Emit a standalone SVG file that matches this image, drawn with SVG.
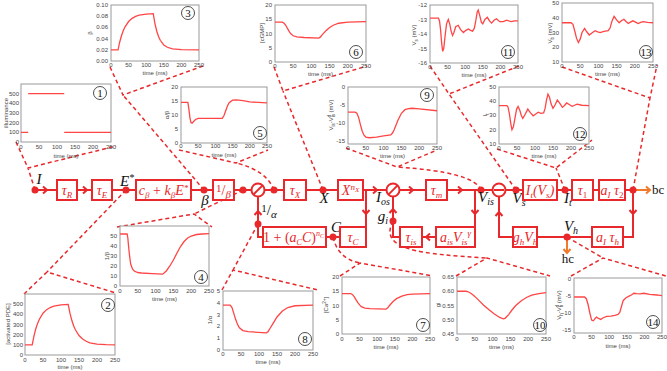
<svg xmlns="http://www.w3.org/2000/svg" xmlns:xlink="http://www.w3.org/1999/xlink" width="667" height="371" viewBox="0 0 667 371">
<style>
.ln{stroke:#e8282b;stroke-width:2;fill:none}
.og{stroke:#f07a2a;stroke-width:2;fill:none}
.bx{fill:#fff;stroke:#e8282b;stroke-width:2}
.bt{font-family:"Liberation Serif",serif;font-style:italic;font-size:14px;fill:#e8282b;text-anchor:middle}
.s{font-size:9px}
.lb{font-family:"Liberation Serif",serif;font-style:italic;font-size:15px;fill:#111;text-anchor:middle}
.dot{fill:#e8282b}
.co{stroke:#e8282b;stroke-width:1.5;stroke-dasharray:4 3;fill:none}
.fr{fill:#fff;stroke:#999;stroke-width:1}
.tk{font-family:"Liberation Sans",Arial,sans-serif;font-size:6px;fill:#444;text-anchor:middle}
.tke{font-family:"Liberation Sans",Arial,sans-serif;font-size:6px;fill:#444;text-anchor:end}
.cv{fill:none;stroke:#ff4545;stroke-width:1.3}
.cn{fill:#fff;stroke:#222;stroke-width:0.8}
.cnt{font-family:"Liberation Serif",serif;font-size:11px;fill:#111;text-anchor:middle}
.ss{font-size:4.5px}
</style>
<defs>
<path id="chev" d="M-4,-3.5 L0,0 L-4,3.5" class="ln"/>
<path id="ochev" d="M-4,-3.5 L0,0 L-4,3.5" class="og"/>
</defs>

<!-- callout connectors -->
<g id="callouts">
<path class="co" d="M35,190 L28,168 M16,142 L28,168 L116,146"/>
<path class="co" d="M126,190 L47,272 M24,294 L47,272 L116,293"/>
<path class="co" d="M204,190 L123,95 M110,67 L123,95 L203,66"/>
<path class="co" d="M243,190 L194,214 M117,227 L194,214 L212,227"/>
<path class="co" d="M274,190 Q266,170 236,163 M179,150 L236,163 L268,150"/>
<path class="co" d="M323,190 L283,91 M274,67 L283,91 L367,66"/>
<path class="co" d="M333,237 Q338,259 360,263 M340,276 L360,263 L433,276"/>
<path class="co" d="M258,224 L233,270 M222,290 L233,270 L318,290"/>
<path class="co" d="M481,190 Q474,172 397,167 M346,148 L397,167 L437,150"/>
<path class="co" d="M393,221 C378,250 420,254 487,258 M456,276 L487,258 L550,276"/>
<path class="co" d="M516,190 L449,94 M430,66 L449,94 L519,66"/>
<path class="co" d="M565,190 L556,168 M497,149 L556,168 L592,140"/>
<path class="co" d="M633,190 L650,98 M562,67 L650,98 L657,65"/>
<path class="co" d="M567,237 L603,258 M571,276 L603,258 L666,276"/>
</g>

<!-- block diagram connectors -->
<g id="connectors">
<path class="ln" d="M35,190H57 M77,190H92 M112,190H136 M191,190H213 M234,190H251.5 M264.5,190H284 M306,190H338 M363,190H386.5 M399.5,190H426 M447,190H492.5 M505.5,190H523 M557,190H572 M593,190H599 M625,190H633"/>
<path class="ln" d="M258,196.5V237H263 M326,237H340 M366,190V237 M393,196.5V237H400 M422,237H436 M475,190V237 M499,196.5V237H513 M537,237H592 M623,237H633V190"/>
<path class="og" d="M633,190H649 M567,237V252"/>
<use xlink:href="#chev" transform="translate(47,190)"/>
<use xlink:href="#chev" transform="translate(87,190)"/>
<use xlink:href="#chev" transform="translate(377,190)"/>
<use xlink:href="#chev" transform="translate(413,190)"/>
<use xlink:href="#chev" transform="translate(462,190)"/>
<use xlink:href="#chev" transform="translate(366,214) rotate(90)"/>
<use xlink:href="#chev" transform="translate(258,211) rotate(-90)"/>
<use xlink:href="#chev" transform="translate(393,209) rotate(-90)"/>
<use xlink:href="#chev" transform="translate(426,237) rotate(180)"/>
<use xlink:href="#chev" transform="translate(475,214) rotate(90)"/>
<use xlink:href="#chev" transform="translate(499,212) rotate(-90)"/>
<use xlink:href="#chev" transform="translate(633,214) rotate(90)"/>
<use xlink:href="#ochev" transform="translate(650,190)"/>
<use xlink:href="#ochev" transform="translate(567,253) rotate(90)"/>
</g>

<!-- nodes -->
<g id="n_I"><circle class="dot" cx="35" cy="190" r="3.5"/><text class="lb" x="39" y="184">I</text></g>
<g id="n_tauR"><rect class="bx" x="57" y="180" width="20" height="20"/><text class="bt" x="67" y="195">τ<tspan class="s" dy="3">R</tspan></text></g>
<g id="n_tauE"><rect class="bx" x="92" y="180" width="20" height="20"/><text class="bt" x="102" y="195">τ<tspan class="s" dy="3">E</tspan></text></g>
<g id="n_E"><circle class="dot" cx="126" cy="190" r="3.5"/><text class="lb" x="127" y="186">E<tspan font-size="10" dy="-5">*</tspan></text></g>
<g id="n_cb"><rect class="bx" x="136" y="180" width="55" height="20"/><text class="bt" x="163.5" y="195">c<tspan class="s" dy="3">β</tspan><tspan dy="-3" font-style="normal"> + </tspan>k<tspan class="s" dy="3">β</tspan><tspan dy="-3">E</tspan><tspan class="s" dy="-4">*</tspan></text></g>
<g id="n_beta"><circle class="dot" cx="204" cy="190" r="3.5"/><text class="lb" x="205" y="205">β</text></g>
<g id="n_invb"><rect class="bx" x="213" y="180" width="21" height="20"/><text class="bt" x="223.5" y="195"><tspan font-size="11" font-style="normal" dy="-3">1</tspan><tspan dy="3" font-style="normal">/</tspan><tspan font-size="11" dy="3">β</tspan></text></g>
<g id="n_d1"><circle class="dot" cx="243" cy="190" r="3.5"/></g>
<g id="n_div1"><circle cx="258" cy="190" r="6.5" class="bx"/><path class="ln" d="M253.4,194.6 L262.6,185.4"/></g>
<g id="n_d2"><circle class="dot" cx="274" cy="190" r="3.5"/></g>
<g id="n_tauX"><rect class="bx" x="284" y="180" width="22" height="20"/><text class="bt" x="295" y="195">τ<tspan class="s" dy="3">X</tspan></text></g>
<g id="n_X"><circle class="dot" cx="323" cy="190" r="3.5"/><text class="lb" x="324" y="203">X</text></g>
<g id="n_Xn"><rect class="bx" x="338" y="180" width="25" height="20"/><text class="bt" x="350.5" y="195">X<tspan class="s" dy="-5">n</tspan><tspan font-size="7" dy="2">X</tspan></text></g>
<g id="n_Ios"><text class="lb" x="383" y="202">I<tspan font-size="10" dy="3">os</tspan></text></g>
<g id="n_div2"><circle cx="393" cy="190" r="6.5" class="bx"/><path class="ln" d="M388.4,194.6 L397.6,185.4"/></g>
<g id="n_taum"><rect class="bx" x="426" y="180" width="21" height="20"/><text class="bt" x="436.5" y="195">τ<tspan class="s" dy="3">m</tspan></text></g>
<g id="n_Vis"><circle class="dot" cx="481" cy="190" r="3.5"/><text class="lb" x="486" y="202">V<tspan font-size="10" dy="3">is</tspan></text></g>
<g id="n_sub"><circle cx="499" cy="190" r="6.5" class="bx"/><path class="ln" d="M494,190 H504"/></g>
<g id="n_Vs"><circle class="dot" cx="516" cy="190" r="3.5"/><text class="lb" x="519" y="203">V<tspan font-size="10" dy="3">s</tspan></text></g>
<g id="n_It"><rect class="bx" x="523" y="180" width="34" height="20"/><text class="bt" x="540" y="195">I<tspan class="s" dy="3">t</tspan><tspan dy="-3">(V</tspan><tspan class="s" dy="3">s</tspan><tspan dy="-3">)</tspan></text></g>
<g id="n_Itd"><circle class="dot" cx="565" cy="190" r="3.5"/><text class="lb" x="568" y="203">I<tspan font-size="10" dy="3">t</tspan></text></g>
<g id="n_tau1"><rect class="bx" x="572" y="180" width="21" height="20"/><text class="bt" x="582.5" y="195">τ<tspan class="s" dy="3" font-style="normal">1</tspan></text></g>
<g id="n_aIt2"><rect class="bx" x="599" y="180" width="26" height="20"/><text class="bt" x="612" y="195">a<tspan class="s" dy="3">I</tspan><tspan dy="-3"> τ</tspan><tspan class="s" dy="3" font-style="normal">2</tspan></text></g>
<g id="n_out"><circle class="dot" cx="633" cy="190" r="3.5"/><text x="652" y="194" font-family="Liberation Serif, serif" font-size="13" fill="#111">bc</text></g>
<g id="n_alpha"><circle class="dot" cx="258" cy="224" r="3.5"/><text class="lb" x="269" y="215"><tspan font-size="11" font-style="normal" dy="-3">1</tspan><tspan dy="3" font-style="normal">/</tspan><tspan font-size="11" dy="3">α</tspan></text></g>
<g id="n_aC"><rect class="bx" x="263" y="227" width="63" height="20"/><text class="bt" x="293.5" y="242" font-size="13"><tspan font-style="normal">1 + (</tspan>a<tspan font-size="8" dy="3">C</tspan><tspan dy="-3">C</tspan><tspan font-style="normal">)</tspan><tspan font-size="8" dy="-6">n</tspan><tspan font-size="6" dy="2">C</tspan></text></g>
<g id="n_C"><circle class="dot" cx="333" cy="237" r="3.5"/><text class="lb" x="336" y="232">C</text></g>
<g id="n_tauC"><rect class="bx" x="340" y="227" width="26" height="20"/><text class="bt" x="353" y="242">τ<tspan class="s" dy="3">C</tspan></text></g>
<g id="n_gi"><circle class="dot" cx="393" cy="221" r="3.5"/><text class="lb" x="383" y="221">g<tspan font-size="10" dy="3">i</tspan></text></g>
<g id="n_tauis"><rect class="bx" x="400" y="227" width="22" height="20"/><text class="bt" x="411" y="242">τ<tspan class="s" dy="3">is</tspan></text></g>
<g id="n_ais"><rect class="bx" x="436" y="227" width="39" height="20"/><text class="bt" x="455.5" y="242">a<tspan class="s" dy="3">is</tspan><tspan dy="-3">V</tspan><tspan class="s" dy="3">is</tspan><tspan class="s" dy="-9">γ</tspan></text></g>
<g id="n_ghVh"><rect class="bx" x="513" y="227" width="24" height="20"/><text class="bt" x="525" y="242">g<tspan class="s" dy="3">h</tspan><tspan dy="-3">V</tspan><tspan class="s" dy="3">h</tspan></text></g>
<g id="n_Vh"><circle class="dot" cx="567" cy="237" r="3.5"/><text class="lb" x="571" y="231">V<tspan font-size="10" dy="3">h</tspan></text><text x="568" y="263" font-family="Liberation Serif, serif" font-size="13" fill="#111" text-anchor="middle">hc</text></g>
<g id="n_aIth"><rect class="bx" x="592" y="227" width="31" height="20"/><text class="bt" x="607.5" y="242">a<tspan class="s" dy="3">I</tspan><tspan dy="-3"> τ</tspan><tspan class="s" dy="3">h</tspan></text></g>

<!-- plots -->
<g id="plot1">
<rect class="fr" x="21" y="84" width="90" height="58"/>
<path class="cv" stroke-width="2" stroke="#ff6a6a" vector-effect="non-scaling-stroke" transform="translate(21,142) scale(0.36,-0.09667)" d="M0,100H20M20,500H120M120,100H250"/>
<text class="tke" x="19" y="144">0</text><text class="tke" x="19" y="134.3">100</text><text class="tke" x="19" y="124.7">200</text><text class="tke" x="19" y="115">300</text><text class="tke" x="19" y="105.3">400</text><text class="tke" x="19" y="95.7">500</text>
<text class="tk" x="21" y="149">0</text><text class="tk" x="39" y="149">50</text><text class="tk" x="57" y="149">100</text><text class="tk" x="75" y="149">150</text><text class="tk" x="93" y="149">200</text><text class="tk" x="111" y="149">250</text>
<text class="tk" x="66" y="158">time (ms)</text>
<text class="tk" transform="translate(8,113) rotate(-90)">illuminance</text>
<circle class="cn" cx="100" cy="93" r="6.5"/><text class="cnt" x="100" y="97">1</text>
</g>

<g id="plot2">
<rect class="fr" x="25" y="294" width="90" height="61"/>
<path class="cv" vector-effect="non-scaling-stroke" transform="translate(25,355) scale(0.36,-0.10167)" d="M0,100 L20,100 L25,189 L30,258 L35,311 L40,352 L50,411 L60,446 L70,467 L80,480 L100,493 L120,497 L125,409 L130,341 L135,288 L140,248 L150,192 L160,157 L170,135 L180,120 L200,107 L225,102 L250,100"/>
<text class="tke" x="23" y="357">0</text><text class="tke" x="23" y="346.8">100</text><text class="tke" x="23" y="336.7">200</text><text class="tke" x="23" y="326.5">300</text><text class="tke" x="23" y="316.3">400</text><text class="tke" x="23" y="306.2">500</text>
<text class="tk" x="25" y="361.5">0</text><text class="tk" x="43" y="361.5">50</text><text class="tk" x="61" y="361.5">100</text><text class="tk" x="79" y="361.5">150</text><text class="tk" x="97" y="361.5">200</text><text class="tk" x="115" y="361.5">250</text>
<text class="tk" x="70" y="369">time (ms)</text>
<text class="tk" transform="translate(10,324) rotate(-90)">[activated PDE]</text>
<circle class="cn" cx="108" cy="305" r="6.5"/><text class="cnt" x="108" y="309">2</text>
</g>

<g id="plot3">
<rect class="fr" x="111" y="5" width="88" height="56"/>
<path class="cv" vector-effect="non-scaling-stroke" transform="translate(111,61) scale(0.352,-560)" d="M0,0.02 L20,0.02 L25,0.0344 L30,0.0456 L35,0.0543 L40,0.0611 L50,0.0705 L60,0.0762 L70,0.0797 L80,0.0818 L100,0.0838 L120,0.0846 L125,0.0663 L130,0.0531 L135,0.0438 L140,0.037 L150,0.0287 L160,0.0245 L175,0.0216 L200,0.0203 L250,0.02"/>
<text class="tke" x="108" y="63">0.00</text><text class="tke" x="108" y="51.8">0.02</text><text class="tke" x="108" y="40.6">0.04</text><text class="tke" x="108" y="29.4">0.06</text><text class="tke" x="108" y="18.2">0.08</text><text class="tke" x="108" y="7">0.10</text>
<text class="tk" x="111" y="67">0</text><text class="tk" x="128.6" y="67">50</text><text class="tk" x="146.2" y="67">100</text><text class="tk" x="163.8" y="67">150</text><text class="tk" x="181.4" y="67">200</text><text class="tk" x="199" y="67">250</text>
<text class="tk" x="155" y="75">time (ms)</text>
<text class="tk" transform="translate(92,33) rotate(-90)">β</text>
<circle class="cn" cx="188" cy="13" r="6.5"/><text class="cnt" x="188" y="17">3</text>
</g>

<g id="plot4">
<rect class="fr" x="120" y="226" width="89" height="60"/>
<path class="cv" vector-effect="non-scaling-stroke" transform="translate(120,286) scale(0.356,-1)" d="M0,52 L20,52 L22,48 L24,40 L26,33 L28,27 L30,22 L35,17 L40,15 L50,13.5 L60,13 L90,12.4 L120,11.8 L130,15 L140,20 L150,26 L160,33 L170,39.5 L180,44.5 L190,48 L200,50 L215,51.5 L230,52 L250,52.3"/>
<text class="tke" x="117" y="288">0</text><text class="tke" x="117" y="278">10</text><text class="tke" x="117" y="268">20</text><text class="tke" x="117" y="258">30</text><text class="tke" x="117" y="248">40</text><text class="tke" x="117" y="238">50</text>
<text class="tk" x="120" y="292.5">0</text><text class="tk" x="137.8" y="292.5">50</text><text class="tk" x="155.6" y="292.5">100</text><text class="tk" x="173.4" y="292.5">150</text><text class="tk" x="191.2" y="292.5">200</text><text class="tk" x="209" y="292.5">250</text>
<text class="tk" x="164.5" y="301">time (ms)</text>
<text class="tk" transform="translate(109,256) rotate(-90)">1/β</text>
<circle class="cn" cx="201" cy="277" r="6.5"/><text class="cnt" x="201" y="281">4</text>
</g>

<g id="plot5">
<rect class="fr" x="181" y="87" width="86" height="56"/>
<path class="cv" vector-effect="non-scaling-stroke" transform="translate(181,143) scale(0.344,-2.8)" d="M0,14.5 L20,14.5 L23,12 L26,9 L29,7.3 L32,7.1 L36,7.6 L42,8.4 L50,8.8 L120,8.8 L125,9.8 L130,11.5 L135,13.2 L140,14.4 L150,15.3 L160,15.4 L180,15.1 L200,14.7 L250,14.3"/>
<text class="tke" x="178" y="145">0</text><text class="tke" x="178" y="131">5</text><text class="tke" x="178" y="117">10</text><text class="tke" x="178" y="103">15</text><text class="tke" x="178" y="89">20</text>
<text class="tk" x="181" y="148">0</text><text class="tk" x="198.2" y="148">50</text><text class="tk" x="215.4" y="148">100</text><text class="tk" x="232.6" y="148">150</text><text class="tk" x="249.8" y="148">200</text><text class="tk" x="267" y="148">250</text>
<text class="tk" x="224" y="157">time (ms)</text>
<text class="tk" transform="translate(169,115) rotate(-90)">α/β</text>
<circle class="cn" cx="260" cy="133" r="6.5"/><text class="cnt" x="260" y="137">5</text>
</g>

<g id="plot6">
<rect class="fr" x="275" y="5" width="91" height="57"/>
<path class="cv" vector-effect="non-scaling-stroke" transform="translate(275,62) scale(0.364,-2.85)" d="M0,14 L20,14 L25,13.6 L30,12.8 L35,11.6 L40,10.5 L45,9.7 L50,9.2 L60,8.8 L80,8.6 L120,8.4 L125,8.8 L130,9.6 L140,11 L150,12.1 L160,12.9 L175,13.6 L200,14 L250,14.2"/>
<text class="tke" x="272" y="64">0</text><text class="tke" x="272" y="49.75">5</text><text class="tke" x="272" y="35.5">10</text><text class="tke" x="272" y="21.25">15</text><text class="tke" x="272" y="7">20</text>
<text class="tk" x="275" y="68">0</text><text class="tk" x="293.2" y="68">50</text><text class="tk" x="311.4" y="68">100</text><text class="tk" x="329.6" y="68">150</text><text class="tk" x="347.8" y="68">200</text><text class="tk" x="366" y="68">250</text>
<text class="tk" x="320.5" y="76">time (ms)</text>
<text class="tk" transform="translate(264,33) rotate(-90)">[cGMP]</text>
<circle class="cn" cx="356" cy="52" r="6.5"/><text class="cnt" x="356" y="56">6</text>
</g>

<g id="plot7">
<rect class="fr" x="342" y="277" width="88" height="57"/>
<path class="cv" vector-effect="non-scaling-stroke" transform="translate(342,334) scale(0.352,-2.85)" d="M0,14.2 L25,14.2 L30,13.8 L35,13 L40,12 L45,11 L50,10.2 L55,9.6 L65,9.1 L80,8.9 L125,8.7 L130,9.2 L135,10 L145,11.4 L155,12.4 L170,13.3 L185,13.8 L200,14 L250,14.2"/>
<text class="tke" x="339" y="336">0</text><text class="tke" x="339" y="321.75">5</text><text class="tke" x="339" y="307.5">10</text><text class="tke" x="339" y="293.25">15</text><text class="tke" x="339" y="279">20</text>
<text class="tk" x="342" y="341">0</text><text class="tk" x="359.6" y="341">50</text><text class="tk" x="377.2" y="341">100</text><text class="tk" x="394.8" y="341">150</text><text class="tk" x="412.4" y="341">200</text><text class="tk" x="430" y="341">250</text>
<text class="tk" x="386" y="349">time (ms)</text>
<text class="tk" transform="translate(328,305) rotate(-90)">[Ca<tspan class="ss" dy="-2">2+</tspan><tspan dy="2">]</tspan></text>
<circle class="cn" cx="423" cy="325" r="6.5"/><text class="cnt" x="423" y="329">7</text>
</g>

<g id="plot8">
<rect class="fr" x="223" y="291" width="90" height="59"/>
<path class="cv" vector-effect="non-scaling-stroke" transform="translate(223,350) scale(0.36,-11.8)" d="M0,3.8 L20,3.8 L25,3.6 L30,3.1 L35,2.6 L40,2.2 L45,1.9 L55,1.65 L70,1.55 L120,1.45 L125,1.55 L130,1.8 L140,2.3 L150,2.8 L165,3.3 L180,3.6 L200,3.75 L250,3.8"/>
<text class="tke" x="220" y="352">0</text><text class="tke" x="220" y="340.2">1</text><text class="tke" x="220" y="328.4">2</text><text class="tke" x="220" y="316.6">3</text><text class="tke" x="220" y="304.8">4</text><text class="tke" x="220" y="293">5</text>
<text class="tk" x="223" y="356">0</text><text class="tk" x="241" y="356">50</text><text class="tk" x="259" y="356">100</text><text class="tk" x="277" y="356">150</text><text class="tk" x="295" y="356">200</text><text class="tk" x="313" y="356">250</text>
<text class="tk" x="268" y="364">time (ms)</text>
<text class="tk" transform="translate(212,320) rotate(-90)">1/α</text>
<circle class="cn" cx="305" cy="339" r="6.5"/><text class="cnt" x="305" y="343">8</text>
</g>

<g id="plot9">
<rect class="fr" x="348" y="87" width="89" height="57"/>
<path class="cv" vector-effect="non-scaling-stroke" transform="translate(348,87) scale(0.356,-3.6)" d="M0,-7 L20,-7 L25,-7.3 L30,-8.5 L35,-10.5 L40,-12.3 L45,-13.4 L50,-13.9 L60,-14.1 L80,-13.9 L100,-13.6 L120,-13.3 L125,-12.8 L130,-11.8 L140,-9.3 L150,-7.3 L160,-6.3 L170,-6 L180,-5.9 L200,-6.1 L250,-6.6"/>
<text class="tke" x="345" y="89">0</text><text class="tke" x="345" y="107">-5</text><text class="tke" x="345" y="125">-10</text><text class="tke" x="345" y="143">-15</text>
<text class="tk" x="348" y="150">0</text><text class="tk" x="365.8" y="150">50</text><text class="tk" x="383.6" y="150">100</text><text class="tk" x="401.4" y="150">150</text><text class="tk" x="419.2" y="150">200</text><text class="tk" x="437" y="150">250</text>
<text class="tk" x="392.5" y="158">time (ms)</text>
<text class="tk" transform="translate(333,115) rotate(-90)">V<tspan class="ss" dy="1.5">is</tspan><tspan dy="-1.5">-V</tspan><tspan class="ss" dy="-2">d</tspan><tspan class="ss" dx="-2.5" dy="3.5">is</tspan><tspan dy="-1.5"> (mV)</tspan></text>
<circle class="cn" cx="427" cy="95" r="6.5"/><text class="cnt" x="427" y="99">9</text>
</g>

<g id="plot10">
<rect class="fr" x="457" y="277" width="89" height="57"/>
<path class="cv" vector-effect="non-scaling-stroke" transform="translate(457,334) scale(0.356,-285) translate(0,-0.45)" d="M0,0.6 L25,0.6 L30,0.599 L40,0.592 L50,0.582 L62,0.567 L75,0.551 L90,0.535 L105,0.52 L120,0.508 L130,0.503 L135,0.505 L145,0.518 L155,0.535 L165,0.55 L180,0.566 L195,0.578 L210,0.586 L230,0.592 L250,0.595"/>
<text class="tke" x="454" y="336">0.45</text><text class="tke" x="454" y="321.75">0.50</text><text class="tke" x="454" y="307.5">0.55</text><text class="tke" x="454" y="293.25">0.60</text><text class="tke" x="454" y="279">0.65</text>
<text class="tk" x="457" y="341">0</text><text class="tk" x="474.8" y="341">50</text><text class="tk" x="492.6" y="341">100</text><text class="tk" x="510.4" y="341">150</text><text class="tk" x="528.2" y="341">200</text><text class="tk" x="546" y="341">250</text>
<text class="tk" x="501.5" y="349">time (ms)</text>
<text class="tk" transform="translate(440,305) rotate(-90)">gi</text>
<circle class="cn" cx="540" cy="325" r="6.5"/><text class="cnt" x="540" y="329">10</text>
</g>

<g id="plot11">
<rect class="fr" x="430" y="5" width="88" height="58"/>
<path class="cv" vector-effect="non-scaling-stroke" transform="translate(430,63) scale(0.352,-14.5) translate(0,16)" d="M0,-12.9 L24,-12.9 L27,-13.1 L30,-13.7 L33,-14.6 L36,-15.2 L39,-15 L43,-14.1 L47,-13.3 L52,-13 L56,-13.3 L60,-13.8 L64,-14.1 L68,-13.9 L73,-13.5 L80,-13.4 L87,-13.7 L95,-13.9 L102,-13.75 L109,-13.65 L115,-13.75 L121,-13.8 L126,-13.6 L130,-13.1 L134,-12.5 L137,-12.35 L141,-12.7 L146,-13.2 L150,-13.3 L156,-13 L163,-12.85 L169,-13.1 L175,-13.25 L182,-13.05 L189,-12.95 L198,-13.15 L208,-13.15 L218,-13.05 L230,-13.15 L240,-13.1 L250,-13.1"/>
<text class="tke" x="427" y="7">-12</text><text class="tke" x="427" y="21.5">-13</text><text class="tke" x="427" y="36">-14</text><text class="tke" x="427" y="50.5">-15</text><text class="tke" x="427" y="65">-16</text>
<text class="tk" x="430" y="69">0</text><text class="tk" x="447.6" y="69">50</text><text class="tk" x="465.2" y="69">100</text><text class="tk" x="482.8" y="69">150</text><text class="tk" x="500.4" y="69">200</text><text class="tk" x="518" y="69">250</text>
<text class="tk" x="474" y="77">time (ms)</text>
<text class="tk" transform="translate(416,35) rotate(-90)">V<tspan class="ss" dy="1.5">s</tspan><tspan dy="-1.5"> (mV)</tspan></text>
<circle class="cn" cx="508" cy="52" r="6.5"/><text class="cnt" x="508" y="56">11</text>
</g>

<g id="plot12">
<rect class="fr" x="499" y="87" width="90" height="57"/>
<path class="cv" vector-effect="non-scaling-stroke" transform="translate(499,144) scale(0.36,-1.425) translate(0,-10)" d="M0,37 L22,37 L25,36 L29,31 L33,24 L36,20 L40,22 L45,29 L49,34.5 L53,36.4 L58,33.5 L62,30 L66,28 L72,30.5 L80,34.5 L87,32 L95,29.8 L102,31 L109,32.3 L116,31.5 L124,31.8 L128,35 L132,41 L136,45 L140,43 L145,38 L150,35 L156,37.5 L162,40.9 L169,38.5 L176,35.7 L182,37 L188,38.8 L196,37.5 L203,36.4 L210,37.2 L217,38 L230,37.2 L250,37"/>
<text class="tke" x="496" y="146">10</text><text class="tke" x="496" y="131.7">20</text><text class="tke" x="496" y="117.4">30</text><text class="tke" x="496" y="103.1">40</text><text class="tke" x="496" y="88.8">50</text>
<text class="tk" x="499" y="150">0</text><text class="tk" x="517" y="150">50</text><text class="tk" x="535" y="150">100</text><text class="tk" x="553" y="150">150</text><text class="tk" x="571" y="150">200</text><text class="tk" x="589" y="150">250</text>
<text class="tk" x="544" y="158">time (ms)</text>
<text class="tk" transform="translate(487,115) rotate(-90)">I<tspan class="ss" dy="1.5">t</tspan></text>
<circle class="cn" cx="580" cy="134" r="6.5"/><text class="cnt" x="580" y="138">12</text>
</g>

<g id="plot13">
<rect class="fr" x="562" y="3" width="91" height="59"/>
<path class="cv" vector-effect="non-scaling-stroke" transform="translate(562,62) scale(0.364,-1.475) translate(0,-10)" d="M0,36.6 L25,36.6 L30,35.5 L35,31 L40,26 L45,23.2 L50,25.5 L55,30 L62,32.8 L68,30.5 L75,28.3 L83,29.8 L91,31.2 L98,30.4 L105,29.9 L115,30.8 L127,31.2 L132,33 L137,37.5 L143,41 L150,38.5 L157,36.6 L163,38 L170,39 L176,37.5 L182,36.1 L188,37 L195,37.9 L202,37 L209,36.1 L216,36.8 L223,37.3 L235,36.8 L250,36.6"/>
<text class="tke" x="559" y="64">10</text><text class="tke" x="559" y="49.25">20</text><text class="tke" x="559" y="34.5">30</text><text class="tke" x="559" y="19.75">40</text><text class="tke" x="559" y="5">50</text>
<text class="tk" x="562" y="68">0</text><text class="tk" x="580.2" y="68">50</text><text class="tk" x="598.4" y="68">100</text><text class="tk" x="616.6" y="68">150</text><text class="tk" x="634.8" y="68">200</text><text class="tk" x="653" y="68">250</text>
<text class="tk" x="607.5" y="76">time (ms)</text>
<text class="tk" transform="translate(552,33) rotate(-90)">V<tspan class="ss" dy="1.5">b</tspan><tspan dy="-1.5"> (mV)</tspan></text>
<circle class="cn" cx="646" cy="52" r="6.5"/><text class="cnt" x="646" y="56">13</text>
</g>

<g id="plot14">
<rect class="fr" x="574" y="278" width="88" height="55"/>
<path class="cv" vector-effect="non-scaling-stroke" transform="translate(574,279) scale(0.352,-3.4)" d="M0,-5.3 L30,-5.3 L35,-5.8 L40,-7.5 L45,-10 L50,-12.1 L55,-12.3 L60,-11.6 L64,-11.2 L70,-11.6 L76,-11.9 L83,-11.4 L93,-11 L105,-10.9 L116,-10.7 L125,-10.4 L130,-9.8 L135,-8 L140,-6.3 L147,-5.6 L155,-5.1 L163,-4.7 L170,-4.2 L178,-4.3 L188,-4.4 L198,-4.2 L215,-4.5 L235,-4.7 L250,-4.9"/>
<text class="tke" x="571" y="281">0</text><text class="tke" x="571" y="298">-5</text><text class="tke" x="571" y="315">-10</text><text class="tke" x="571" y="332">-15</text>
<text class="tk" x="574" y="339">0</text><text class="tk" x="591.6" y="339">50</text><text class="tk" x="609.2" y="339">100</text><text class="tk" x="626.8" y="339">150</text><text class="tk" x="644.4" y="339">200</text><text class="tk" x="662" y="339">250</text>
<text class="tk" x="618" y="347.5">time (ms)</text>
<text class="tk" transform="translate(561,305) rotate(-90)">V<tspan class="ss" dy="1.5">h</tspan><tspan dy="-1.5">-V</tspan><tspan class="ss" dy="-2">d</tspan><tspan class="ss" dx="-2.5" dy="3.5">h</tspan><tspan dy="-1.5"> (mV)</tspan></text>
<circle class="cn" cx="653" cy="322" r="6.5"/><text class="cnt" x="653" y="326">14</text>
</g>
</svg>
